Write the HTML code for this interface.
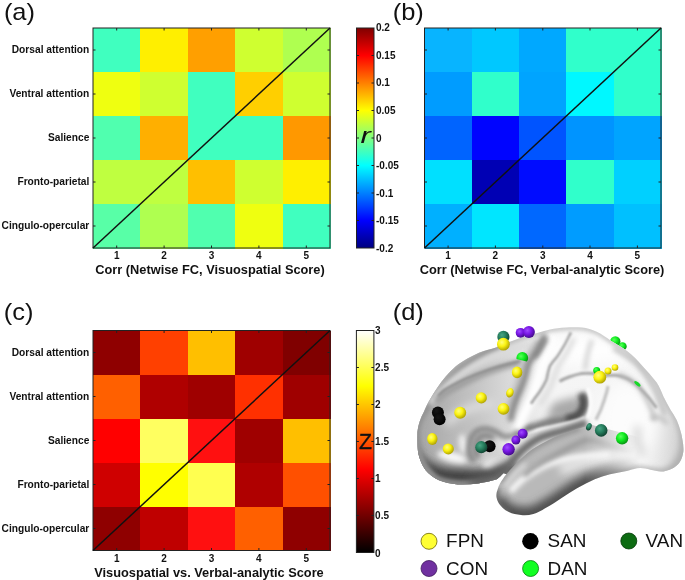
<!DOCTYPE html>
<html><head><meta charset="utf-8"><title>Figure</title>
<style>
html,body{margin:0;padding:0;background:#fff;}
svg{display:block;font-family:"Liberation Sans",Arial,sans-serif;}
.tk{font-size:10px;font-weight:bold;fill:#111;}
.yl{font-size:10.2px;font-weight:bold;fill:#111;}
.xl{font-size:12.8px;font-weight:bold;fill:#111;}
.cb{font-size:10px;font-weight:bold;fill:#111;}
.pl{font-size:23.8px;fill:#111;}
.lg{font-size:17.6px;fill:#111;}
</style></head><body>
<svg width="685" height="580" viewBox="0 0 685 580">
<defs>
<linearGradient id="gjet" x1="0" y1="0" x2="0" y2="1"><stop offset="0.0000" stop-color="#800000"/><stop offset="0.0625" stop-color="#bf0000"/><stop offset="0.1250" stop-color="#ff0000"/><stop offset="0.1875" stop-color="#ff4000"/><stop offset="0.2500" stop-color="#ff8000"/><stop offset="0.3125" stop-color="#ffbf00"/><stop offset="0.3750" stop-color="#ffff00"/><stop offset="0.4375" stop-color="#bfff40"/><stop offset="0.5000" stop-color="#80ff80"/><stop offset="0.5625" stop-color="#40ffbf"/><stop offset="0.6250" stop-color="#00ffff"/><stop offset="0.6875" stop-color="#00bfff"/><stop offset="0.7500" stop-color="#0080ff"/><stop offset="0.8125" stop-color="#0040ff"/><stop offset="0.8750" stop-color="#0000ff"/><stop offset="0.9375" stop-color="#0000bf"/><stop offset="1.0000" stop-color="#000080"/></linearGradient>
<linearGradient id="ghot" x1="0" y1="0" x2="0" y2="1"><stop offset="0.0000" stop-color="#ffffff"/><stop offset="0.0625" stop-color="#ffffbf"/><stop offset="0.1250" stop-color="#ffff80"/><stop offset="0.1875" stop-color="#ffff40"/><stop offset="0.2500" stop-color="#ffff00"/><stop offset="0.3125" stop-color="#ffd400"/><stop offset="0.3750" stop-color="#ffaa00"/><stop offset="0.4375" stop-color="#ff8000"/><stop offset="0.5000" stop-color="#ff5500"/><stop offset="0.5625" stop-color="#ff2a00"/><stop offset="0.6250" stop-color="#ff0000"/><stop offset="0.6875" stop-color="#d40000"/><stop offset="0.7500" stop-color="#aa0000"/><stop offset="0.8125" stop-color="#800000"/><stop offset="0.8750" stop-color="#550000"/><stop offset="0.9375" stop-color="#2a0000"/><stop offset="1.0000" stop-color="#000000"/></linearGradient>
</defs>
<rect width="685" height="580" fill="#fff"/>
<text class="pl" transform="translate(3.9 20.0) scale(1.07 1)">(a)</text>
<text class="pl" transform="translate(392.7 19.8) scale(1.07 1)">(b)</text>
<text class="pl" transform="translate(3.8 319.5) scale(1.07 1)">(c)</text>
<text class="pl" transform="translate(392.7 319.8) scale(1.07 1)">(d)</text>
<g shape-rendering="crispEdges">
<rect x="93.00" y="28.00" width="47.90" height="44.50" fill="#40ffbf"/>
<rect x="140.40" y="28.00" width="47.90" height="44.50" fill="#ffef00"/>
<rect x="187.80" y="28.00" width="47.90" height="44.50" fill="#ff9f00"/>
<rect x="235.20" y="28.00" width="47.90" height="44.50" fill="#cfff30"/>
<rect x="282.60" y="28.00" width="47.90" height="44.50" fill="#afff50"/>
<rect x="93.00" y="72.00" width="47.90" height="44.50" fill="#efff10"/>
<rect x="140.40" y="72.00" width="47.90" height="44.50" fill="#cfff30"/>
<rect x="187.80" y="72.00" width="47.90" height="44.50" fill="#40ffbf"/>
<rect x="235.20" y="72.00" width="47.90" height="44.50" fill="#ffcf00"/>
<rect x="282.60" y="72.00" width="47.90" height="44.50" fill="#cfff30"/>
<rect x="93.00" y="116.00" width="47.90" height="44.50" fill="#50ffaf"/>
<rect x="140.40" y="116.00" width="47.90" height="44.50" fill="#ffaf00"/>
<rect x="187.80" y="116.00" width="47.90" height="44.50" fill="#40ffbf"/>
<rect x="235.20" y="116.00" width="47.90" height="44.50" fill="#40ffbf"/>
<rect x="282.60" y="116.00" width="47.90" height="44.50" fill="#ff9800"/>
<rect x="93.00" y="160.00" width="47.90" height="44.50" fill="#bfff40"/>
<rect x="140.40" y="160.00" width="47.90" height="44.50" fill="#bfff40"/>
<rect x="187.80" y="160.00" width="47.90" height="44.50" fill="#ffbf00"/>
<rect x="235.20" y="160.00" width="47.90" height="44.50" fill="#cfff30"/>
<rect x="282.60" y="160.00" width="47.90" height="44.50" fill="#ffef00"/>
<rect x="93.00" y="204.00" width="47.90" height="44.50" fill="#58ffa7"/>
<rect x="140.40" y="204.00" width="47.90" height="44.50" fill="#afff50"/>
<rect x="187.80" y="204.00" width="47.90" height="44.50" fill="#50ffaf"/>
<rect x="235.20" y="204.00" width="47.90" height="44.50" fill="#efff10"/>
<rect x="282.60" y="204.00" width="47.90" height="44.50" fill="#40ffbf"/>
</g>
<rect x="93" y="28" width="237" height="220" fill="none" stroke="#222" stroke-width="1"/>
<line x1="93" y1="248" x2="330" y2="28" stroke="#111" stroke-width="1.5"/>
<path d="M116.7 248v-2.5M116.7 28v2.5M93 50.0h2.5M330 50.0h-2.5" stroke="#222" stroke-width="1" fill="none"/>
<text class="tk" x="116.7" y="259.3" text-anchor="middle">1</text>
<text class="yl" x="89.3" y="53.3" text-anchor="end">Dorsal attention</text>
<path d="M164.1 248v-2.5M164.1 28v2.5M93 94.0h2.5M330 94.0h-2.5" stroke="#222" stroke-width="1" fill="none"/>
<text class="tk" x="164.1" y="259.3" text-anchor="middle">2</text>
<text class="yl" x="89.3" y="97.3" text-anchor="end">Ventral attention</text>
<path d="M211.5 248v-2.5M211.5 28v2.5M93 138.0h2.5M330 138.0h-2.5" stroke="#222" stroke-width="1" fill="none"/>
<text class="tk" x="211.5" y="259.3" text-anchor="middle">3</text>
<text class="yl" x="89.3" y="141.3" text-anchor="end">Salience</text>
<path d="M258.9 248v-2.5M258.9 28v2.5M93 182.0h2.5M330 182.0h-2.5" stroke="#222" stroke-width="1" fill="none"/>
<text class="tk" x="258.9" y="259.3" text-anchor="middle">4</text>
<text class="yl" x="89.3" y="185.3" text-anchor="end">Fronto-parietal</text>
<path d="M306.3 248v-2.5M306.3 28v2.5M93 226.0h2.5M330 226.0h-2.5" stroke="#222" stroke-width="1" fill="none"/>
<text class="tk" x="306.3" y="259.3" text-anchor="middle">5</text>
<text class="yl" x="89.3" y="229.3" text-anchor="end">Cingulo-opercular</text>
<text class="xl" x="210" y="273.5" text-anchor="middle">Corr (Netwise FC, Visuospatial Score)</text>
<g shape-rendering="crispEdges">
<rect x="424.50" y="28.00" width="47.80" height="44.50" fill="#08b4ff"/>
<rect x="471.80" y="28.00" width="47.80" height="44.50" fill="#00c8ff"/>
<rect x="519.10" y="28.00" width="47.80" height="44.50" fill="#00a8ff"/>
<rect x="566.40" y="28.00" width="47.80" height="44.50" fill="#30ffcb"/>
<rect x="613.70" y="28.00" width="47.80" height="44.50" fill="#30ffcb"/>
<rect x="424.50" y="72.00" width="47.80" height="44.50" fill="#009cff"/>
<rect x="471.80" y="72.00" width="47.80" height="44.50" fill="#30ffcb"/>
<rect x="519.10" y="72.00" width="47.80" height="44.50" fill="#00a4ff"/>
<rect x="566.40" y="72.00" width="47.80" height="44.50" fill="#00f8ff"/>
<rect x="613.70" y="72.00" width="47.80" height="44.50" fill="#30ffcb"/>
<rect x="424.50" y="116.00" width="47.80" height="44.50" fill="#0064ff"/>
<rect x="471.80" y="116.00" width="47.80" height="44.50" fill="#0004ff"/>
<rect x="519.10" y="116.00" width="47.80" height="44.50" fill="#0054ff"/>
<rect x="566.40" y="116.00" width="47.80" height="44.50" fill="#0094ff"/>
<rect x="613.70" y="116.00" width="47.80" height="44.50" fill="#00a4ff"/>
<rect x="424.50" y="160.00" width="47.80" height="44.50" fill="#00e0ff"/>
<rect x="471.80" y="160.00" width="47.80" height="44.50" fill="#0000b4"/>
<rect x="519.10" y="160.00" width="47.80" height="44.50" fill="#000cff"/>
<rect x="566.40" y="160.00" width="47.80" height="44.50" fill="#30ffcb"/>
<rect x="613.70" y="160.00" width="47.80" height="44.50" fill="#00d0ff"/>
<rect x="424.50" y="204.00" width="47.80" height="44.50" fill="#00b0ff"/>
<rect x="471.80" y="204.00" width="47.80" height="44.50" fill="#00e6ff"/>
<rect x="519.10" y="204.00" width="47.80" height="44.50" fill="#0068ff"/>
<rect x="566.40" y="204.00" width="47.80" height="44.50" fill="#009cff"/>
<rect x="613.70" y="204.00" width="47.80" height="44.50" fill="#00c0ff"/>
</g>
<rect x="424.5" y="28" width="236.5" height="220" fill="none" stroke="#222" stroke-width="1"/>
<line x1="424.5" y1="248" x2="661.0" y2="28" stroke="#111" stroke-width="1.5"/>
<path d="M448.1 248v-2.5M448.1 28v2.5M424.5 50.0h2.5M661.0 50.0h-2.5" stroke="#222" stroke-width="1" fill="none"/>
<text class="tk" x="448.1" y="259.3" text-anchor="middle">1</text>
<path d="M495.4 248v-2.5M495.4 28v2.5M424.5 94.0h2.5M661.0 94.0h-2.5" stroke="#222" stroke-width="1" fill="none"/>
<text class="tk" x="495.4" y="259.3" text-anchor="middle">2</text>
<path d="M542.8 248v-2.5M542.8 28v2.5M424.5 138.0h2.5M661.0 138.0h-2.5" stroke="#222" stroke-width="1" fill="none"/>
<text class="tk" x="542.8" y="259.3" text-anchor="middle">3</text>
<path d="M590.0 248v-2.5M590.0 28v2.5M424.5 182.0h2.5M661.0 182.0h-2.5" stroke="#222" stroke-width="1" fill="none"/>
<text class="tk" x="590.0" y="259.3" text-anchor="middle">4</text>
<path d="M637.4 248v-2.5M637.4 28v2.5M424.5 226.0h2.5M661.0 226.0h-2.5" stroke="#222" stroke-width="1" fill="none"/>
<text class="tk" x="637.4" y="259.3" text-anchor="middle">5</text>
<text class="xl" x="542" y="273.5" text-anchor="middle">Corr (Netwise FC, Verbal-analytic Score)</text>
<g shape-rendering="crispEdges">
<rect x="93.00" y="330.50" width="47.90" height="44.50" fill="#8f0000"/>
<rect x="140.40" y="330.50" width="47.90" height="44.50" fill="#ff4000"/>
<rect x="187.80" y="330.50" width="47.90" height="44.50" fill="#ffbf00"/>
<rect x="235.20" y="330.50" width="47.90" height="44.50" fill="#9f0000"/>
<rect x="282.60" y="330.50" width="47.90" height="44.50" fill="#800000"/>
<rect x="93.00" y="374.50" width="47.90" height="44.50" fill="#ff6000"/>
<rect x="140.40" y="374.50" width="47.90" height="44.50" fill="#af0000"/>
<rect x="187.80" y="374.50" width="47.90" height="44.50" fill="#9f0000"/>
<rect x="235.20" y="374.50" width="47.90" height="44.50" fill="#ff3000"/>
<rect x="282.60" y="374.50" width="47.90" height="44.50" fill="#9f0000"/>
<rect x="93.00" y="418.50" width="47.90" height="44.50" fill="#ff0000"/>
<rect x="140.40" y="418.50" width="47.90" height="44.50" fill="#ffff60"/>
<rect x="187.80" y="418.50" width="47.90" height="44.50" fill="#ff1010"/>
<rect x="235.20" y="418.50" width="47.90" height="44.50" fill="#9f0000"/>
<rect x="282.60" y="418.50" width="47.90" height="44.50" fill="#ffbf00"/>
<rect x="93.00" y="462.50" width="47.90" height="44.50" fill="#cf0000"/>
<rect x="140.40" y="462.50" width="47.90" height="44.50" fill="#ffff00"/>
<rect x="187.80" y="462.50" width="47.90" height="44.50" fill="#ffff50"/>
<rect x="235.20" y="462.50" width="47.90" height="44.50" fill="#af0000"/>
<rect x="282.60" y="462.50" width="47.90" height="44.50" fill="#ff5000"/>
<rect x="93.00" y="506.50" width="47.90" height="44.50" fill="#8f0000"/>
<rect x="140.40" y="506.50" width="47.90" height="44.50" fill="#bf0000"/>
<rect x="187.80" y="506.50" width="47.90" height="44.50" fill="#ff1010"/>
<rect x="235.20" y="506.50" width="47.90" height="44.50" fill="#ff6000"/>
<rect x="282.60" y="506.50" width="47.90" height="44.50" fill="#8f0000"/>
</g>
<rect x="93" y="330.5" width="237" height="220" fill="none" stroke="#222" stroke-width="1"/>
<line x1="93" y1="550.5" x2="330" y2="330.5" stroke="#111" stroke-width="1.5"/>
<path d="M116.7 550.5v-2.5M116.7 330.5v2.5M93 352.5h2.5M330 352.5h-2.5" stroke="#222" stroke-width="1" fill="none"/>
<text class="tk" x="116.7" y="561.8" text-anchor="middle">1</text>
<text class="yl" x="89.3" y="355.8" text-anchor="end">Dorsal attention</text>
<path d="M164.1 550.5v-2.5M164.1 330.5v2.5M93 396.5h2.5M330 396.5h-2.5" stroke="#222" stroke-width="1" fill="none"/>
<text class="tk" x="164.1" y="561.8" text-anchor="middle">2</text>
<text class="yl" x="89.3" y="399.8" text-anchor="end">Ventral attention</text>
<path d="M211.5 550.5v-2.5M211.5 330.5v2.5M93 440.5h2.5M330 440.5h-2.5" stroke="#222" stroke-width="1" fill="none"/>
<text class="tk" x="211.5" y="561.8" text-anchor="middle">3</text>
<text class="yl" x="89.3" y="443.8" text-anchor="end">Salience</text>
<path d="M258.9 550.5v-2.5M258.9 330.5v2.5M93 484.5h2.5M330 484.5h-2.5" stroke="#222" stroke-width="1" fill="none"/>
<text class="tk" x="258.9" y="561.8" text-anchor="middle">4</text>
<text class="yl" x="89.3" y="487.8" text-anchor="end">Fronto-parietal</text>
<path d="M306.3 550.5v-2.5M306.3 330.5v2.5M93 528.5h2.5M330 528.5h-2.5" stroke="#222" stroke-width="1" fill="none"/>
<text class="tk" x="306.3" y="561.8" text-anchor="middle">5</text>
<text class="yl" x="89.3" y="531.8" text-anchor="end">Cingulo-opercular</text>
<text class="xl" x="209" y="576.5" text-anchor="middle">Visuospatial vs. Verbal-analytic Score</text>
<rect x="356.5" y="28" width="17.5" height="220" fill="url(#gjet)" stroke="#222" stroke-width="1"/>
<text class="cb" x="376.0" y="31.2">0.2</text>
<path d="M356.5 55.5h2.5M374.0 55.5h-2.5" stroke="#222" stroke-width="1"/>
<text class="cb" x="376.0" y="58.8">0.15</text>
<path d="M356.5 83.0h2.5M374.0 83.0h-2.5" stroke="#222" stroke-width="1"/>
<text class="cb" x="376.0" y="86.4">0.1</text>
<path d="M356.5 110.5h2.5M374.0 110.5h-2.5" stroke="#222" stroke-width="1"/>
<text class="cb" x="376.0" y="114.0">0.05</text>
<path d="M356.5 138.0h2.5M374.0 138.0h-2.5" stroke="#222" stroke-width="1"/>
<text class="cb" x="376.0" y="141.6">0</text>
<path d="M356.5 165.5h2.5M374.0 165.5h-2.5" stroke="#222" stroke-width="1"/>
<text class="cb" x="376.0" y="169.2">-0.05</text>
<path d="M356.5 193.0h2.5M374.0 193.0h-2.5" stroke="#222" stroke-width="1"/>
<text class="cb" x="376.0" y="196.8">-0.1</text>
<path d="M356.5 220.5h2.5M374.0 220.5h-2.5" stroke="#222" stroke-width="1"/>
<text class="cb" x="376.0" y="224.4">-0.15</text>
<text class="cb" x="376.0" y="252.0">-0.2</text>
<text transform="translate(360.6 143) scale(1.38 1)" style="font-size:22.5px;font-style:italic;fill:#111">r</text>
<rect x="356.4" y="330.5" width="17.5" height="222" fill="url(#ghot)" stroke="#222" stroke-width="1"/>
<text class="cb" x="375.1" y="333.7">3</text>
<path d="M356.4 367.5h2.5M373.9 367.5h-2.5" stroke="#222" stroke-width="1"/>
<text class="cb" x="375.1" y="370.8">2.5</text>
<path d="M356.4 404.5h2.5M373.9 404.5h-2.5" stroke="#222" stroke-width="1"/>
<text class="cb" x="375.1" y="408.0">2</text>
<path d="M356.4 441.5h2.5M373.9 441.5h-2.5" stroke="#222" stroke-width="1"/>
<text class="cb" x="375.1" y="445.1">1.5</text>
<path d="M356.4 478.5h2.5M373.9 478.5h-2.5" stroke="#222" stroke-width="1"/>
<text class="cb" x="375.1" y="482.2">1</text>
<path d="M356.4 515.5h2.5M373.9 515.5h-2.5" stroke="#222" stroke-width="1"/>
<text class="cb" x="375.1" y="519.4">0.5</text>
<text class="cb" x="375.1" y="556.5">0</text>
<text transform="translate(358.9 449.4) scale(0.94 1)" style="font-size:22.6px;fill:#111;stroke:#111;stroke-width:0.35">Z</text>
<defs>
<filter id="b1" filterUnits="userSpaceOnUse" x="395" y="305" width="300" height="240"><feGaussianBlur stdDeviation="1.2"/></filter>
<filter id="b2" filterUnits="userSpaceOnUse" x="395" y="305" width="300" height="240"><feGaussianBlur stdDeviation="2.5"/></filter>
<filter id="b4" filterUnits="userSpaceOnUse" x="395" y="305" width="300" height="240"><feGaussianBlur stdDeviation="4.5"/></filter>
<filter id="b8" filterUnits="userSpaceOnUse" x="395" y="305" width="300" height="240"><feGaussianBlur stdDeviation="8"/></filter>
<path id="bodyP" d="M417.4 432 C418.2 424.5 420.6 418 423.8 412 C426 407 428 402.5 430.7 398.3 C432.8 394.5 435 391 437.6 387.2 C440 383.5 442.8 379.8 445.9 376.2 C448.8 372.8 452 369.6 455.5 366.6 C459.2 363.5 463.4 360.8 467.9 358.3 C471.4 356.3 475.2 354.5 479 352.8 C481.8 351.7 484.5 350.8 487.2 350 C490.5 349 493.6 348.2 496.8 347.2 C504 344.2 511 341.2 517.5 339 C524 336.6 531 334.5 538.2 332.7 C542 331.6 546 330.5 550 329.6 C555 328.5 560 327.9 565.7 327.6 C571 327.2 577 327.1 582.2 327.6 C587 328.2 592 329.6 596.7 331.7 C602 334.2 607 337.8 611.2 341 C617 344.5 622 347.5 627.7 351.4 C633 355.6 638 360.5 642.2 365.8 C647 371 652 376.5 656.7 382.4 C659.4 386.8 661.5 391.5 663.3 396.2 C665.6 400.8 668 405.2 670.5 409.7 C672.8 413 674.8 416.5 676.7 420 C678.4 424 679.8 428 680.8 432 C681.6 434.6 682 437 682.4 439.7 C683.2 443.5 683.6 447.5 683.3 451.7 C682.8 455.5 681.6 459 679.8 462 C677.6 465 674.8 467.6 671.2 469 C668 470.6 664.5 471.5 660.9 471.6 C657.4 471.4 654 470.5 650.5 469.8 C647 469 643.6 468.2 640.2 468.1 C636 468.4 632 469.5 628 470.7 C622 472 616 473 610 474.2 C604.8 475.6 599.6 477.3 594.7 479.3 C589 481.8 583.6 484.5 578.3 487.4 L545 490 L503.7 473.1 C501.5 475 499.4 477.5 496.8 479.3 C491 481.2 484.5 482.5 478.2 483.4 C471.5 484.3 464.5 484.8 457.6 484.4 C451 483.8 444.5 482.8 439 480.3 C433.5 477.8 429 474.4 425.5 470 C422 465 419.8 459.4 418.3 453.4 C417.4 448 417.2 440 417.4 432 Z"/>
<path id="tempP" d="M502.7 479.3 C505 475.5 508 472 510.9 469 C514 465.5 517.5 462 521 458.8 C525 455 529 451.6 533.4 448.6 C538 445.6 543 442.8 547.7 440.4 C552.5 438 557 436 562 434.3 C570 431 580 428 592 425 L650 440 L640.2 468.1 C636 468.4 632 469.5 628 470.7 C622 472 616 473 610 474.2 C604.8 475.6 599.6 477.3 594.7 479.3 C589 481.8 583.6 484.5 578.3 487.4 C572.8 490.6 567.4 494 562 497.7 C556.6 501.4 551 505 545.6 507.9 C541.5 510.5 537.5 513 533.4 514 C529.3 515.2 525 515.4 521 515 C516.6 514.6 512.5 513.8 508.8 512 C505.6 510.5 502.8 508.6 500.7 505.8 C498.6 503.4 497.2 500.8 496.6 497.7 C496 495 496.6 492 497.6 489.5 C498.8 485.6 500.5 482.2 502.7 479.3 Z"/>
<linearGradient id="gBody" gradientUnits="userSpaceOnUse" x1="416" y1="0" x2="685" y2="0"><stop offset="0" stop-color="#a4a4a4"/><stop offset="0.2" stop-color="#c1c1c1"/><stop offset="0.36" stop-color="#dcdcdc"/><stop offset="0.5" stop-color="#f5f5f5"/><stop offset="0.85" stop-color="#f4f4f4"/><stop offset="1" stop-color="#cfcfcf"/></linearGradient>
<linearGradient id="gFade" gradientUnits="userSpaceOnUse" x1="585" y1="0" x2="640" y2="0"><stop offset="0" stop-color="#fff"/><stop offset="1" stop-color="#000"/></linearGradient>
<mask id="tempM" maskUnits="userSpaceOnUse" x="480" y="400" width="210" height="130"><rect x="480" y="400" width="210" height="130" fill="url(#gFade)"/></mask>
<clipPath id="cDan"><path d="M510 345 L535 345 L535 363.5 C528 362 520 359.5 510 358 Z"/></clipPath>
<clipPath id="bodyC"><use href="#bodyP"/></clipPath>
<clipPath id="tempC"><use href="#tempP"/></clipPath>
<clipPath id="allC"><use href="#bodyP"/><use href="#tempP"/></clipPath>
<radialGradient id="sY" cx="0.38" cy="0.35" r="0.7"><stop offset="0" stop-color="#ffff7a"/><stop offset="0.45" stop-color="#fbf312"/><stop offset="1" stop-color="#a89a00"/></radialGradient>
<radialGradient id="sK" cx="0.38" cy="0.35" r="0.7"><stop offset="0" stop-color="#161616"/><stop offset="1" stop-color="#000"/></radialGradient>
<radialGradient id="sP" cx="0.38" cy="0.35" r="0.7"><stop offset="0" stop-color="#a04bff"/><stop offset="0.45" stop-color="#7a18e6"/><stop offset="1" stop-color="#3d0a80"/></radialGradient>
<radialGradient id="sG" cx="0.38" cy="0.35" r="0.7"><stop offset="0" stop-color="#5cff5c"/><stop offset="0.45" stop-color="#10ee20"/><stop offset="1" stop-color="#078a12"/></radialGradient>
<radialGradient id="sV" cx="0.38" cy="0.35" r="0.7"><stop offset="0" stop-color="#4aa585"/><stop offset="0.45" stop-color="#27805f"/><stop offset="1" stop-color="#0e3d2c"/></radialGradient>
</defs>
<!-- spheres behind the brain -->
<g id="behind">
<circle cx="615.3" cy="341.4" r="5.2" fill="url(#sG)"/>
<circle cx="622.5" cy="346.4" r="4.2" fill="url(#sG)"/>
</g>
<!-- brain body -->
<g clip-path="url(#bodyC)">
<rect x="410" y="320" width="275" height="200" fill="url(#gBody)"/>
<!-- broad highlights -->
<ellipse cx="590" cy="350" rx="55" ry="16" fill="#fefefe" filter="url(#b8)"/>
<ellipse cx="628" cy="420" rx="30" ry="40" fill="#fcfcfc" filter="url(#b8)"/>
<!-- frontal lower shading -->
<path d="M406 436 C418 458 434 467 452 468 C470 469 486 470 500 466 L516 462 L516 500 L405 500 Z" fill="#424242" filter="url(#b4)"/>
<path d="M413 410 C411 440 418 462 432 478" stroke="#767676" stroke-width="8" fill="none" filter="url(#b2)"/>
<ellipse cx="452" cy="457" rx="15" ry="5" fill="#f6f6f6" filter="url(#b2)" transform="rotate(14 452 457)"/>
<ellipse cx="463" cy="444" rx="4" ry="10" fill="#eeeeee" filter="url(#b2)" transform="rotate(-8 463 444)"/>
<ellipse cx="492" cy="463" rx="10" ry="5" fill="#e6e6e6" filter="url(#b2)" transform="rotate(-15 492 463)"/>
<!-- right-bottom shading -->
<path d="M690 420 C690 446 684 470 664 478 L636 480" stroke="#a8a8a8" stroke-width="12" fill="none" filter="url(#b4)"/>
<!-- rim: light overall, darker on the left -->
<use href="#bodyP" fill="none" stroke="#b4b4b4" stroke-width="4" filter="url(#b2)"/>
<path d="M500 346 C480 354 462 366 451.4 376.2 C440 388 426 408 419.3 422.4 C416 430 416 445 418.3 453.4 C422 468 432 478 439 480.3 C452 484.5 470 484.6 478.2 483.4 C488 482 498 480 503 476" fill="none" stroke="#8a8a8a" stroke-width="5" filter="url(#b2)"/>
<!-- superior frontal gyrus bright + sulcus -->
<path d="M430 404 C444 384 468 368 492 357 C504 352 516 348 530 344" stroke="#dcdcdc" stroke-width="6" fill="none" filter="url(#b2)"/>
<path d="M436 402 C440 396 444 393.5 448 391.5 C460 385 472 379 483.2 374 C496 369 508 365 521.3 362.2" stroke="#9a9a9a" stroke-width="5.5" fill="none" filter="url(#b2)"/>
<path d="M438 396 C440.5 393.5 442.5 391.5 444.5 390 C451 386 458 382.5 465.2 379 C473 375.5 481.5 372.2 490 369.3 C500 366 510 363.6 521 361" stroke="#8e8e8e" stroke-width="2.4" fill="none" filter="url(#b1)"/>
<path d="M446 424 C458 412 476 404 494 404" stroke="#dedede" stroke-width="8" fill="none" filter="url(#b4)"/>
<!-- opercular bright region -->
<path d="M500 446 C515 438 535 433 556 428" stroke="#efefef" stroke-width="10" fill="none" filter="url(#b4)"/>
<!-- broad sylvian shadow -->
<path d="M552 404 C560 400 572 398 581 396 L582 412 C574 417 560 419 546 421 Z" fill="#a8a8a8" filter="url(#b4)"/>
<path d="M581.4 393 C583 397 583.8 401 583.6 404 C583.4 408 582 411 580 413.5 C578.4 415.4 576.4 416.6 574 417.4 C571.4 418.3 568.7 418.9 566 419.3 C563.3 419.8 560.6 420.2 558 420.5 C555.3 420.9 552.6 421.4 550 422 C546.6 422.9 543.3 423.9 540 425 C535.8 426.5 531.8 428.2 528 430 C524 431.5 520 432 516 431" stroke="#7a7a7a" stroke-width="8" fill="none" filter="url(#b2)"/>
<path d="M581.6 395 C583.2 398 583.8 401 583.6 403.5 C583.4 407 582.6 409 581.5 411 C580.2 413 578.8 414.4 577 415.5 C574 417 570 418 566 418.8" stroke="#4a4a4a" stroke-width="6.5" fill="none" filter="url(#b2)"/>
<path d="M587.5 388 C590.4 394 591.3 400 591 405 C590.6 410 589 416 586.4 421" stroke="#fdfdfd" stroke-width="3.5" fill="none" filter="url(#b1)"/>
<path d="M508 443 C515 439 521 436 526 433.6 C534 431 543 429.5 551 428 C558 426.5 565 424.8 571 423 C576 421.6 581 420 585 418.5" stroke="#f4f4f4" stroke-width="4.5" fill="none" filter="url(#b1)"/>
<path d="M608 386 C607.6 388 607.2 390 606.7 392 C605 398 603 404 600.7 410 C599 413.4 597.4 416.6 595.9 419.8" stroke="#c2c2c2" stroke-width="3.2" fill="none" filter="url(#b1)"/>
<!-- crease above the operculum (left part) -->
<path d="M474 462 C470 456 468.5 452 469 449 C469.5 443 470.5 438 473 434.6 C476 430.5 480 428.6 485 428.8 C491 429 497 432 502.6 436 C508 438 514 436 520 432 C525 429.5 529 428 533 426.7" stroke="#7c7c7c" stroke-width="4.5" fill="none" filter="url(#b2)"/>
<path d="M478 458 C475 452 475 444 478 439 C481 435 487 434 494 438" stroke="#8a8a8a" stroke-width="7" fill="none" filter="url(#b2)"/>
<!-- precentral sulcus -->
<path d="M538 340 C535 346 531 352 527 358 C523 366 520 376 517 386 C514 396 510 404 506 412" stroke="#c2c2c2" stroke-width="7" fill="none" filter="url(#b2)"/>
<path d="M552 336 C548 350 544 362 540 374 C536 388 531 400 525 412 C522 418 519 424 517 430" stroke="#fefefe" stroke-width="10" fill="none" filter="url(#b2)"/>
<path d="M545 335 C543 340 540 346 537 352 C534 356 531.5 359 529.3 362.4 C527.5 366 526.8 370 525.9 374.5 C524.8 378 523.6 381.5 522.4 384.8 C520.8 389 519 393 517.2 396.9 C515.2 402 513.4 407 512 412.4 C511.2 415.5 510.6 418.5 510.3 421" stroke="#7a7a7a" stroke-width="5" fill="none" filter="url(#b2)"/>
<path d="M546.2 338 C544 341.5 542.5 344.5 540.7 347.6 C538.5 351 536.2 354.2 533.8 357.2" stroke="#858585" stroke-width="5" fill="none" filter="url(#b2)"/>
<!-- central sulcus -->
<path d="M571 332.4 C569.2 336 567.4 339.8 565.5 343.4 C562.8 348 560 352.8 556.9 357.2 C554.4 360 552 362.8 550 365.9 C548.2 370.5 547.6 375 546.6 379.7 C544.6 384 542.2 388 539.7 391.7 C538 394 536.2 396.4 534.5 398.6 C533.3 400.4 532.1 402.1 531 403.8" stroke="#a0a0a0" stroke-width="2.6" fill="none" filter="url(#b1)"/>
<path d="M574 338 C570 348 565 356 560 363 C556 370 554 378 551 386 C548 393 544 399 540 405" stroke="#dedede" stroke-width="5" fill="none" filter="url(#b2)"/>
<!-- supramarginal outline -->
<path d="M559.5 381.4 C562.5 379.6 565.6 378.2 569 377 C573 375.6 577 374.4 581 373.6 C585 373.2 589 373.2 593 373.6 C600 376.6 608 375 615.8 375.2 C622 376 628 378.5 632.3 381.4 C636 384 638.5 386 641.6 389.9 C647 395.5 652 401.5 656.6 407.8" stroke="#a6a6a6" stroke-width="3" fill="none" filter="url(#b1)"/>
<path d="M592 340 C588 350 586 360 585 370" stroke="#d0d0d0" stroke-width="4" fill="none" filter="url(#b2)"/>
<path d="M613.4 348 C621 352.5 629 357.5 636.7 363.6 C643.5 371 649.5 380 654.8 389.4 C659 398 662 406.5 665 415.3" stroke="#bababa" stroke-width="4" fill="none" filter="url(#b2)"/>
<path d="M618.6 374 C625 376.5 631 380 636.7 384.3 C642 390.5 646 397.5 649.6 405 C652 410 653.5 415 654.8 420.4" stroke="#b6b6b6" stroke-width="3.5" fill="none" filter="url(#b2)"/>
<path d="M651 419 C656 415 662 417 667 424" stroke="#b8b8b8" stroke-width="3.5" fill="none" filter="url(#b2)"/>
<path d="M638 426 C636 436 638 446 644 456" stroke="#d6d6d6" stroke-width="7" fill="none" filter="url(#b4)"/>
<!-- sylvian fissure (top edge of temporal lobe) -->
<path d="M498 482 C505 470 512 460 520.7 451.7 C528 445 534 440.5 541.4 437.2 C548 434.5 555 433 562 431 C570 428.5 578 426 586.8 422.7" stroke="#6c6c6c" stroke-width="8" fill="none" filter="url(#b2)"/>
<path d="M470 484 C482 482 494 476 504 466" stroke="#5a5a5a" stroke-width="10" fill="none" filter="url(#b4)"/>
</g>
<!-- temporal lobe -->
<g clip-path="url(#tempC)" mask="url(#tempM)">
<rect x="480" y="400" width="200" height="130" fill="#b9b9b9"/>
<path d="M560 470 C580 462 610 456 650 452" stroke="#e4e4e4" stroke-width="12" fill="none" filter="url(#b4)"/>
<path d="M510 492 C518 482 530 473 541.5 467 C552 462 562 459.5 572 458 C584 456 596 455 610 455" stroke="#f6f6f6" stroke-width="6.5" fill="none" filter="url(#b2)"/>
<path d="M524 476 C526.5 473 529 471 531.3 469 C539 463.5 547 458.8 555.8 454.7 C565 449.8 575 444.6 584.4 440.4 C590 439.4 595.5 440.6 600.8 442.5 C610 445 620 448 634 451" stroke="#9a9a9a" stroke-width="5" fill="none" filter="url(#b2)"/>
<path d="M496.6 497.7 C497.2 500.8 498.6 503.4 500.7 505.8 C502.8 508.6 505.6 510.5 508.8 512 C512.5 513.8 516.6 514.6 521 515 C525 515.4 529.3 515.2 533.4 514 C537.5 513 541.5 510.5 545.6 507.9 C551 505 556.6 501.4 562 497.7 C567.4 494 572.8 490.6 578.3 487.4 C583.6 484.5 589 481.8 594.7 479.3 C599.6 477.3 604.8 475.6 610 474.2 C616 473 622 472 628 470.7 L645 470" stroke="#505050" stroke-width="17" fill="none" filter="url(#b4)"/>
<path d="M500 482 C510 468 522 456 534 448 C548 439 564 433 580 428" stroke="#909090" stroke-width="5" fill="none" filter="url(#b2)"/>
<path d="M497 488 C494 500 499 509 508 514" stroke="#6e6e6e" stroke-width="6" fill="none" filter="url(#b2)"/>
<path d="M505 487 C510 478 518 470 526 464" stroke="#dedede" stroke-width="4" fill="none" filter="url(#b2)"/>
</g>
<!-- spheres in front -->
<g id="front">
<circle cx="503.4" cy="336.9" r="6.1" fill="url(#sV)"/>
<circle cx="503.4" cy="344.2" r="6.4" fill="url(#sY)"/>
<circle cx="520.6" cy="332.8" r="4.9" fill="url(#sP)"/>
<circle cx="528.9" cy="332.1" r="6" fill="url(#sP)"/>
<g clip-path="url(#cDan)"><circle cx="522.3" cy="358" r="5.9" fill="url(#sG)"/></g>
<ellipse cx="517.1" cy="372.4" rx="5.2" ry="5.8" fill="url(#sY)"/>
<ellipse cx="509.9" cy="392.7" rx="3.6" ry="4.8" fill="url(#sY)" transform="rotate(20 509.9 392.7)"/>
<circle cx="481.3" cy="397.9" r="5.6" fill="url(#sY)"/>
<circle cx="503.5" cy="408.8" r="5.9" fill="url(#sY)"/>
<circle cx="460.2" cy="412.8" r="6" fill="url(#sY)"/>
<circle cx="437.9" cy="412.4" r="6" fill="url(#sK)"/>
<circle cx="439.6" cy="419.2" r="6" fill="url(#sK)"/>
<ellipse cx="432.3" cy="439" rx="5.2" ry="6" fill="url(#sY)"/>
<circle cx="448.3" cy="448.9" r="5.5" fill="url(#sY)"/>
<circle cx="489.6" cy="446.2" r="6" fill="url(#sK)"/>
<circle cx="481.3" cy="447.2" r="6.1" fill="url(#sV)"/>
<circle cx="522.7" cy="433.8" r="5" fill="url(#sP)"/>
<circle cx="515.9" cy="440" r="4.5" fill="url(#sP)"/>
<circle cx="508.6" cy="449.3" r="6.2" fill="url(#sP)"/>
<circle cx="596.7" cy="370.4" r="3.5" fill="url(#sG)"/>
<circle cx="615" cy="367.5" r="3.3" fill="url(#sY)"/>
<circle cx="608" cy="371" r="3.5" fill="url(#sY)"/>
<circle cx="599.8" cy="377.2" r="6.4" fill="url(#sY)"/>
<ellipse cx="637.4" cy="383.8" rx="3.8" ry="1.7" fill="#18d828" transform="rotate(40 637.4 383.8)"/>
<ellipse cx="588.9" cy="426.8" rx="2.6" ry="3.8" fill="url(#sV)" transform="rotate(25 588.9 426.8)"/>
<circle cx="601.2" cy="430.4" r="6.3" fill="url(#sV)"/>
<circle cx="622.1" cy="438.3" r="6.2" fill="url(#sG)"/>
</g>
<!-- legend -->
<g>
<circle cx="429" cy="541.3" r="8" fill="#ffff33" stroke="#6b6400" stroke-width="0.8"/>
<circle cx="530.4" cy="541.3" r="8.2" fill="#000"/>
<circle cx="628.8" cy="541" r="8" fill="#0d6b12" stroke="#043806" stroke-width="0.8"/>
<circle cx="429" cy="568.5" r="8" fill="#7030a0" stroke="#3f1a5c" stroke-width="0.8"/>
<circle cx="530.6" cy="568.5" r="8" fill="#11ff22" stroke="#0a7a10" stroke-width="0.8"/>
<text class="lg" transform="translate(446.1 547.2) scale(1.074 1)">FPN</text>
<text class="lg" transform="translate(547.6 547.2) scale(1.074 1)">SAN</text>
<text class="lg" transform="translate(645.6 547.2) scale(1.074 1)">VAN</text>
<text class="lg" transform="translate(446.1 574.6) scale(1.074 1)">CON</text>
<text class="lg" transform="translate(547.6 574.6) scale(1.074 1)">DAN</text>
</g>

</svg>
</body></html>
